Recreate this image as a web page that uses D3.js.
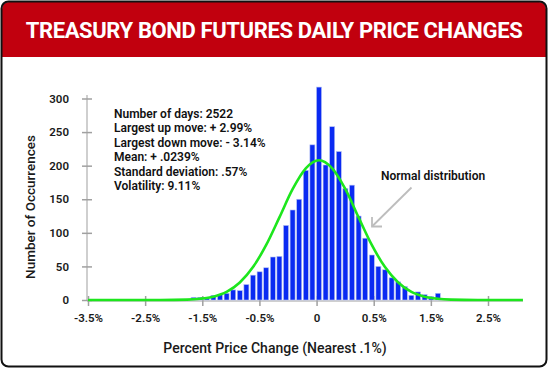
<!DOCTYPE html>
<html>
<head>
<meta charset="utf-8">
<script src="https://cdn.jsdelivr.net/npm/d3@7"></script>
<style>
  body { margin: 0; background: #fff; }
  text { font-family: Roboto, "Noto Sans", sans-serif; }
</style>
</head>
<body>
<div id="chart"></div>
<script>
// daily price change bins (percent, nearest .1%) and number of days in each
var bins = [-1.9, -1.8, -1.7, -1.6, -1.5, -1.4, -1.3, -1.2, -1.1, -1.0, -0.9, -0.8, -0.7, -0.6,
            -0.5, -0.4, -0.3, -0.2, -0.1, 0, 0.1, 0.2, 0.3, 0.4, 0.5, 0.6, 0.7,
            0.8, 0.9, 1.0, 1.1, 1.2, 1.3, 1.4, 1.5, 1.6, 1.7, 1.8];
var counts = [4, 4, 3, 7, 8, 10, 15, 14, 23, 37, 42, 48, 64, 65,
              111, 134, 150, 193, 231, 317, 201, 258, 221, 166, 171, 125, 92,
              67, 50, 45, 33, 27, 20, 7, 12, 8, 5, 10];

// normal distribution curve
var curvePct = [-3.5, -2.4, -2.0, -1.8, -1.6, -1.4, -1.2, -1.0, -0.8, -0.6, -0.4, -0.2, 0,
                0.2, 0.4, 0.6, 0.8, 1.0, 1.2, 1.4, 1.6, 1.8, 2.0, 2.4, 3.09];
var curveVal = [0, 0, 0.6, 1.9, 5, 12, 26, 49, 82, 123, 165, 196, 208,
                196, 165, 123, 82, 49, 26, 12, 5, 1.9, 0.6, 0, 0];

var yTicks = [0, 50, 100, 150, 200, 250, 300];
var xTickLabels = ["-3.5%", "-2.5%", "-1.5%", "-0.5%", "0", "0.5%", "1.5%", "2.5%"];
var stats = ["Number of days: 2522", "Largest up move: + 2.99%", "Largest down move: - 3.14%",
             "Mean: + .0239%", "Standard deviation: .57%", "Volatility: 9.11%"];

var W = 549, H = 369;
var svg = d3.select("#chart").append("svg")
    .attr("width", W).attr("height", H);

// card + red header
svg.append("clipPath").attr("id", "card")
  .append("rect").attr("x", 2).attr("y", 2).attr("width", 544).attr("height", 364).attr("rx", 7);
svg.append("rect").attr("x", 2).attr("y", 2).attr("width", 544).attr("height", 364)
    .attr("fill", "#fff").attr("clip-path", "url(#card)");
svg.append("rect").attr("x", 2).attr("y", 2).attr("width", 544).attr("height", 55)
    .attr("fill", "#c1000e").attr("clip-path", "url(#card)");
svg.append("rect").attr("x", 1.5).attr("y", 1.5).attr("width", 545).attr("height", 365)
    .attr("rx", 7).attr("fill", "none").attr("stroke", "#111").attr("stroke-width", 2);

var title = svg.append("text")
    .attr("x", 274).attr("y", 37.5)
    .attr("text-anchor", "middle")
    .style("font-size", "22px").style("font-weight", 700).style("fill", "#fff")
    .text("TREASURY BOND FUTURES DAILY PRICE CHANGES");
// tighten letters so the title spans about 497px like the original
var tw = title.node().getComputedTextLength();
var nChars = title.text().length;
if (tw > 497) title.style("letter-spacing", ((497 - tw) / (nChars - 1)) + "px");

// scales
var yScale = d3.scaleLinear().domain([0, 300]).range([300, 98.5]);
var xTick = d3.scaleLinear().domain([0, 7]).range([88, 488]);   // evenly spaced labelled ticks
var xPct = d3.scaleLinear().domain([0, 1]).range([319, 385]);   // bars, 0.1% per bar

// axis lines
svg.append("line").attr("x1", 87).attr("x2", 87).attr("y1", 95).attr("y2", 301)
    .attr("stroke", "#cfcfcf").attr("stroke-width", 2);
svg.append("line").attr("x1", 87).attr("x2", 523).attr("y1", 301).attr("y2", 301)
    .attr("stroke", "#cfcfcf").attr("stroke-width", 2);

// y axis
var yAxis = d3.axisLeft(yScale).tickValues(yTicks).tickSize(5).tickPadding(13);
var gy = svg.append("g").attr("transform", "translate(87,0)").call(yAxis);
gy.select(".domain").remove();
gy.selectAll(".tick line").attr("x1", 5).attr("x2", -5).attr("stroke", "#a0a0a0").attr("stroke-width", 1.5);
gy.selectAll(".tick text").style("font-size", "11.5px").style("font-weight", 600)
    .style("fill", "#1a1a1a").style("font-family", "Roboto, sans-serif");

// x axis
var xAxis = d3.axisBottom(xTick).tickValues(d3.range(8))
    .tickFormat(function (i) { return xTickLabels[i]; }).tickSize(5).tickPadding(9);
var gx = svg.append("g").attr("transform", "translate(0,300)").call(xAxis);
gx.select(".domain").remove();
gx.selectAll(".tick line").attr("y1", -4).attr("y2", 6).attr("stroke", "#a0a0a0").attr("stroke-width", 1.5);
gx.selectAll(".tick text").style("font-size", "11.5px").style("font-weight", 600)
    .style("fill", "#1a1a1a").style("font-family", "Roboto, sans-serif");

// bars
svg.append("g").selectAll("rect")
  .data(bins)
  .enter().append("rect")
    .attr("x", function (d) { return xPct(d) - 2.5; })
    .attr("y", function (d, i) { return yScale(counts[i]); })
    .attr("width", 5)
    .attr("height", function (d, i) { return yScale(0) - yScale(counts[i]); })
    .attr("fill", "#0a2af2")
    .attr("stroke", "#b4c0f4").attr("stroke-width", 0.6);

// normal curve
var line = d3.line()
    .x(function (d) { return xPct(d[0]); })
    .y(function (d) { return yScale(d[1]); })
    .curve(d3.curveMonotoneX);
svg.append("path")
    .datum(curvePct.map(function (p, i) { return [p, curveVal[i]]; }))
    .attr("d", line)
    .attr("fill", "none").attr("stroke", "#1de61d").attr("stroke-width", 2.6);

// stats block
svg.append("g").selectAll("text")
  .data(stats)
  .enter().append("text")
    .attr("x", 114)
    .attr("y", function (d, i) { return 117.5 + i * 14.5; })
    .style("font-size", "12px").style("font-weight", 600).style("fill", "#111")
    .text(function (d) { return d; });

// annotation
svg.append("text").attr("x", 381).attr("y", 179.5)
    .style("font-size", "12px").style("font-weight", 600).style("fill", "#111")
    .text("Normal distribution");
svg.append("line").attr("x1", 411.5).attr("y1", 187.5).attr("x2", 372).attr("y2", 226.5)
    .attr("stroke", "#bdbdbd").attr("stroke-width", 1.8);
svg.append("path").attr("d", "M372,217 L372,226.5 L382,226.5")
    .attr("fill", "none").attr("stroke", "#bdbdbd").attr("stroke-width", 1.8);

// axis titles
svg.append("text")
    .attr("transform", "translate(35,207) rotate(-90)")
    .attr("text-anchor", "middle")
    .style("font-size", "13.5px").style("font-weight", 500).style("fill", "#1a1a1a")
    .text("Number of Occurrences");
svg.append("text")
    .attr("x", 275).attr("y", 353)
    .attr("text-anchor", "middle")
    .style("font-size", "14px").style("font-weight", 500).style("fill", "#1a1a1a")
    .text("Percent Price Change (Nearest .1%)");
</script>
</body>
</html>
